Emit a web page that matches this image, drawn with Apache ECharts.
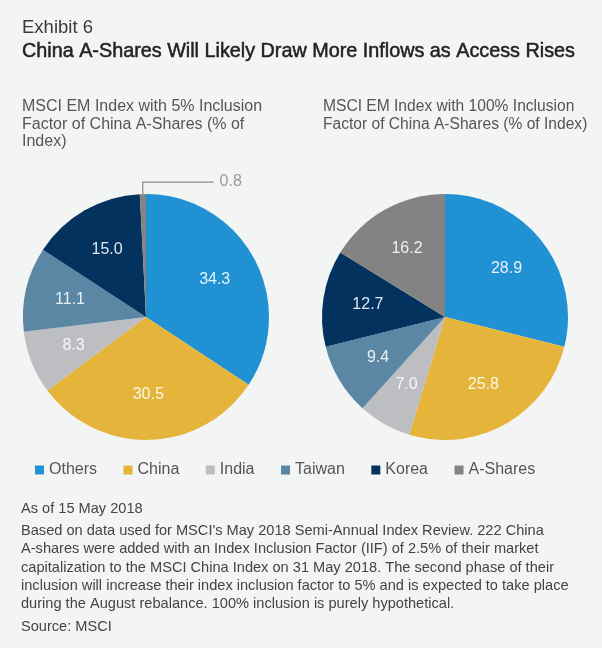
<!DOCTYPE html>
<html lang="en">
<head>
    <meta charset="UTF-8">
    <title>Exhibit 6</title>
    <script src="https://cdn.jsdelivr.net/npm/echarts@6/dist/echarts.min.js"></script>
    <style>
        html, body { margin: 0; padding: 0; background: #fff; }
        #main { width: 602px; height: 648px; }
    </style>
</head>
<body>
<div id="main"></div>
<script>
    // categories + colours
    const categories = ['Others', 'China', 'India', 'Taiwan', 'Korea', 'A-Shares'];
    const colors = ['#2092d3', '#e5b53b', '#bdbec2', '#5b87a4', '#03325f', '#838383'];

    // % of index
    const incl5 = [34.3, 30.5, 8.3, 11.1, 15.0, 0.8];
    const incl100 = [28.9, 25.8, 7.0, 9.4, 12.7, 16.2];

    const font = 'Liberation Sans, Arial, sans-serif';
    const labelColor = 'rgba(255,255,255,0.88)';

    function pieData(values, overlay) {
        return values.map((v, i) => {
            const small = v < 2;
            const d = { name: categories[i], value: v };
            if (overlay) {
                d.itemStyle = { color: 'transparent' };
                d.label = { show: !small };
            } else {
                d.itemStyle = { color: colors[i] };
                d.label = { show: small };
                d.labelLine = { show: small };
            }
            return d;
        });
    }

    // real slices
    function mainPie(center, values) {
        return {
            type: 'pie',
            center: center,
            radius: [0, 123],
            startAngle: 90,
            clockwise: true,
            silent: true,
            animation: false,
            emphasis: { disabled: true },
            itemStyle: { borderWidth: 0 },
            label: {
                position: 'outside',
                color: '#9a9a9a',
                fontSize: 16,
                fontFamily: font,
                formatter: p => p.value.toFixed(1)
            },
            labelLine: { length: 12, length2: 20, smooth: false, lineStyle: { color: '#8a8a8a', width: 1.2 } },
            // push the tiny slice's label off to the right
            labelLayout: function (params) {
                const p = params.labelLinePoints;
                if (!p) return;
                const y = p[1][1];
                const xEnd = p[1][0] + 71;
                return {
                    x: xEnd + 6,
                    y: y,
                    align: 'left',
                    verticalAlign: 'middle',
                    labelLinePoints: [p[0], p[1], [xEnd, y]]
                };
            },
            data: pieData(values, false)
        };
    }

    // invisible twin, only there to put the inside labels further out
    function labelPie(center, values) {
        return {
            type: 'pie',
            center: center,
            radius: [0, 150],
            startAngle: 90,
            clockwise: true,
            silent: true,
            animation: false,
            emphasis: { disabled: true },
            label: {
                position: 'inside',
                color: labelColor,
                fontSize: 16,
                fontFamily: font,
                formatter: p => p.value.toFixed(1)
            },
            labelLine: { show: false },
            data: pieData(values, true)
        };
    }

    function txt(size, color, lh, extra) {
        return Object.assign({ fontFamily: font, fontSize: size, fontWeight: 'normal', color: color, lineHeight: lh }, extra || {});
    }

    const chart = echarts.init(document.getElementById('main'));
    chart.setOption({
        backgroundColor: '#f3f4f4',
        title: [
            { text: 'Exhibit 6', left: 22, top: 17, padding: 0,
              textStyle: txt(18.5, '#3a3a3a', 22) },
            { text: 'China A-Shares Will Likely Draw More Inflows as Access Rises', left: 22, top: 41, padding: 0,
              textStyle: txt(19.8, '#222', 22, { textBorderColor: '#222', textBorderWidth: 0.5 }) },
            { text: 'MSCI EM Index with 5% Inclusion\nFactor of China A-Shares (% of\nIndex)', left: 22, top: 98, padding: 0,
              textStyle: txt(16, '#555', 17.5) },
            { text: 'MSCI EM Index with 100% Inclusion\nFactor of China A-Shares (% of Index)', left: 323, top: 98, padding: 0,
              textStyle: txt(15.6, '#555', 17.5) },
            { text: 'As of 15 May 2018', left: 21, top: 500, padding: 0,
              textStyle: txt(14.6, '#444', 18) },
            { text: "Based on data used for MSCI's May 2018 Semi-Annual Index Review. 222 China\n" +
                    'A-shares were added with an Index Inclusion Factor (IIF) of 2.5% of their market\n' +
                    'capitalization to the MSCI China Index on 31 May 2018. The second phase of their\n' +
                    'inclusion will increase their index inclusion factor to 5% and is expected to take place\n' +
                    'during the August rebalance. 100% inclusion is purely hypothetical.',
              left: 21, top: 522, padding: 0,
              textStyle: txt(14.6, '#444', 18.3) },
            { text: 'Source: MSCI', left: 21, top: 618, padding: 0,
              textStyle: txt(14.6, '#444', 18) }
        ],
        legend: {
            data: categories,
            left: 35,
            top: 462,
            padding: 0,
            icon: 'rect',
            itemWidth: 9,
            itemHeight: 9,
            itemGap: 26.5,
            selectedMode: false,
            textStyle: { fontFamily: font, fontSize: 16, color: '#555' }
        },
        series: [
            mainPie([146, 317], incl5),
            mainPie([445, 317], incl100),
            labelPie([146, 317], incl5),
            labelPie([445, 317], incl100)
        ]
    });
</script>
</body>
</html>
